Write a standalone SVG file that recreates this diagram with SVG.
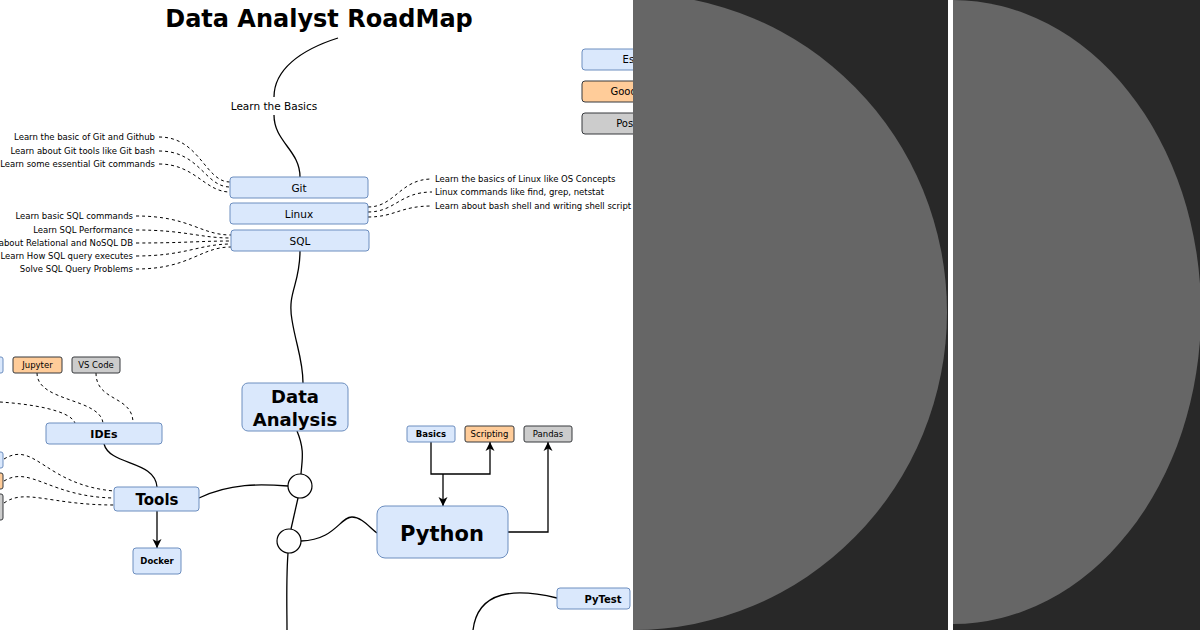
<svg xmlns="http://www.w3.org/2000/svg" width="1200" height="630" viewBox="0 0 1200 630">
<style>
.t{font-family:"DejaVu Sans",Verdana,sans-serif;fill:#000}
.b{fill:#dae8fc;stroke:#6c8ebf;stroke-width:1}
.o{fill:#ffcc99;stroke:#36393d;stroke-width:1}
.g{fill:#cccccc;stroke:#36393d;stroke-width:1}
.dash{fill:none;stroke:#000;stroke-width:1;stroke-dasharray:3 3}
.ln{fill:none;stroke:#000;stroke-width:1.3}
.sm{font-size:8.5px}
</style>
<defs>
<marker id="arr" markerUnits="userSpaceOnUse" markerWidth="10" markerHeight="10" refX="9" refY="5" orient="auto">
<path d="M0,0.5 L9,5 L0,9.5 L2.5,5 z" fill="#000"/>
</marker>
<clipPath id="p1"><rect x="633" y="0" width="315" height="630"/></clipPath>
<clipPath id="p2"><rect x="953" y="0" width="247" height="630"/></clipPath>
<clipPath id="dia"><rect x="0" y="0" width="633" height="630"/></clipPath>
</defs>
<rect width="1200" height="630" fill="#fff"/>
<g clip-path="url(#dia)">
<text class="t" x="319" y="27" font-size="24" font-weight="bold" text-anchor="middle">Data Analyst RoadMap</text>
<g id="connectors">
<path class="ln" d="M338,38 C300,50 274,70 274,97"/>
<path class="ln" d="M274,115 C274,142 300,150 300,177"/>
<path class="dash" d="M159,137 C200,137 205,182 230,182"/>
<path class="dash" d="M159,151 C200,151 205,187 230,187"/>
<path class="dash" d="M159,164 C195,164 205,192 230,192"/>
<path class="dash" d="M368,207 C395,207 400,179 432,179"/>
<path class="dash" d="M368,212 C395,212 400,192 432,192"/>
<path class="dash" d="M368,217 C395,217 400,206 432,206"/>
<path class="dash" d="M136,216 C190,216 200,235 231,235"/>
<path class="dash" d="M136,230 C185,230 200,238 231,238"/>
<path class="dash" d="M136,243 C185,243 200,241 231,241"/>
<path class="dash" d="M136,256 C185,256 200,244 231,244"/>
<path class="dash" d="M136,269 C190,269 200,247 231,247"/>
<path class="ln" d="M300,251 C300,285 287,292 292,320 C296,345 303,360 303,383"/>
<path class="ln" d="M297,431 C305,450 302,460 301,474"/>
<path class="ln" d="M298,498 L291,529"/>
<path class="ln" d="M288,553 C286,580 287,610 287,630"/>
<path class="ln" d="M199,498 C230,483 260,484 288,486"/>
<path class="ln" d="M301,541 C335,540 340,517 352,517 C362,517 370,528 377,533"/>
<path class="dash" d="M37,373 C37,402 100,398 103,423"/>
<path class="dash" d="M96,373 C96,402 133,395 133,423"/>
<path class="dash" d="M0,402 C30,404 70,410 75,423"/>
<path class="dash" d="M4,459 C35,440 45,485 114,491"/>
<path class="dash" d="M4,481 C30,465 50,497 114,498"/>
<path class="dash" d="M4,503 C25,488 50,505 114,505"/>
<path class="ln" d="M104,444 C110,466 155,460 157,487"/>
<path class="ln" d="M157,511 L157,548" marker-end="url(#arr)"/>
<path class="ln" d="M431,442 L431,474 L490,474 L490,442" marker-end="url(#arr)"/>
<path class="ln" d="M443,474 L443,506" marker-end="url(#arr)"/>
<path class="ln" d="M508,532 L548,532 L548,442" marker-end="url(#arr)"/>
<path class="ln" d="M557,598 C515,588 478,590 473,630"/>
</g>
<g id="basics-label"><text class="t" x="274" y="110" font-size="10.5" text-anchor="middle">Learn the Basics</text></g>
<g id="git-notes" class="t sm" text-anchor="end">
<text x="155" y="140">Learn the basic of Git and Github</text>
<text x="155" y="154">Learn about Git tools like Git bash</text>
<text x="155" y="167">Learn some essential Git commands</text>
</g>
<g id="linux-notes" class="t sm">
<text x="435" y="182">Learn the basics of Linux like OS Concepts</text>
<text x="435" y="195">Linux commands like find, grep, netstat</text>
<text x="435" y="209">Learn about bash shell and writing shell script</text>
</g>
<g id="sql-notes" class="t sm" text-anchor="end">
<text x="133" y="219">Learn basic SQL commands</text>
<text x="133" y="233">Learn SQL Performance</text>
<text x="133" y="246">Learn about Relational and NoSQL DB</text>
<text x="133" y="259">Learn How SQL query executes</text>
<text x="133" y="272">Solve SQL Query Problems</text>
</g>
<g id="git"><rect class="b" x="230" y="177" width="138" height="21" rx="3"/><text class="t" x="299" y="191.5" font-size="10.5" text-anchor="middle">Git</text></g>
<g id="linux"><rect class="b" x="230" y="203" width="138" height="21" rx="3"/><text class="t" x="299" y="217.5" font-size="10.5" text-anchor="middle">Linux</text></g>
<g id="sql"><rect class="b" x="231" y="230" width="138" height="21" rx="3"/><text class="t" x="300" y="244.5" font-size="10.5" text-anchor="middle">SQL</text></g>
<g id="data-analysis"><rect class="b" x="242" y="383" width="106" height="48" rx="6"/><text class="t" x="295" y="403" font-size="18" font-weight="bold" text-anchor="middle">Data</text><text class="t" x="295" y="426" font-size="18" font-weight="bold" text-anchor="middle">Analysis</text></g>
<g id="junction1"><circle cx="300" cy="486" r="12" fill="#fff" stroke="#000" stroke-width="1.2"/></g>
<g id="junction2"><circle cx="289" cy="541" r="12" fill="#fff" stroke="#000" stroke-width="1.2"/></g>
<g id="ide-left"><rect class="b" x="-20" y="357" width="23" height="16" rx="2"/></g>
<g id="jupyter"><rect class="o" x="13" y="357" width="49" height="16" rx="2"/><text class="t sm" x="37.5" y="368" text-anchor="middle">Jupyter</text></g>
<g id="vscode"><rect class="g" x="72" y="357" width="48" height="16" rx="2"/><text class="t sm" x="96" y="368" text-anchor="middle">VS Code</text></g>
<g id="ides"><rect class="b" x="46" y="423" width="116" height="21" rx="3"/><text class="t" x="104" y="438" font-size="11" font-weight="bold" text-anchor="middle">IDEs</text></g>
<g id="tool-a"><rect class="b" x="-20" y="452" width="23" height="16" rx="2"/></g>
<g id="tool-b"><rect class="o" x="-20" y="473" width="23" height="16" rx="2"/></g>
<g id="tool-c"><rect class="g" x="-20" y="494" width="23" height="26" rx="2"/></g>
<g id="tools"><rect class="b" x="114" y="487" width="85" height="24" rx="3"/><text class="t" x="157" y="504.5" font-size="15" font-weight="bold" text-anchor="middle">Tools</text></g>
<g id="docker"><rect class="b" x="133" y="548" width="48" height="26" rx="3"/><text class="t sm" x="157" y="564" font-weight="bold" text-anchor="middle">Docker</text></g>
<g id="basics"><rect class="b" x="407" y="426" width="48" height="16" rx="2"/><text class="t sm" x="431" y="437" font-weight="bold" text-anchor="middle">Basics</text></g>
<g id="scripting"><rect class="o" x="465" y="426" width="49" height="16" rx="2"/><text class="t sm" x="489.5" y="437" text-anchor="middle">Scripting</text></g>
<g id="pandas"><rect class="g" x="524" y="426" width="48" height="16" rx="2"/><text class="t sm" x="548" y="437" text-anchor="middle">Pandas</text></g>
<g id="python"><rect class="b" x="377" y="506" width="131" height="52" rx="8"/><text class="t" x="442" y="541" font-size="21" font-weight="bold" text-anchor="middle">Python</text></g>
<g id="pytest"><rect class="b" x="557" y="588" width="73" height="21" rx="3"/><text class="t" x="603" y="602.5" font-size="10" font-weight="bold" text-anchor="middle">PyTest</text></g>
<g id="legend">
<rect class="b" x="582" y="49" width="126" height="21" rx="3"/><text class="t" x="645" y="63" font-size="10" text-anchor="middle">Essential</text>
<rect class="o" x="582" y="81" width="126" height="21" rx="3"/><text class="t" x="645" y="95" font-size="10" text-anchor="middle">Good to know</text>
<rect class="g" x="582" y="113" width="126" height="21" rx="3"/><text class="t" x="645" y="127" font-size="10" text-anchor="middle">Possibilities</text>
</g>
</g>
<rect x="633" y="0" width="315" height="630" fill="#282828"/>
<rect x="953" y="0" width="247" height="630" fill="#282828"/>
<ellipse cx="633" cy="312" rx="314" ry="318" fill="#666666" clip-path="url(#p1)"/>
<ellipse cx="953" cy="312" rx="248" ry="312" fill="#666666" clip-path="url(#p2)"/>
</svg>
